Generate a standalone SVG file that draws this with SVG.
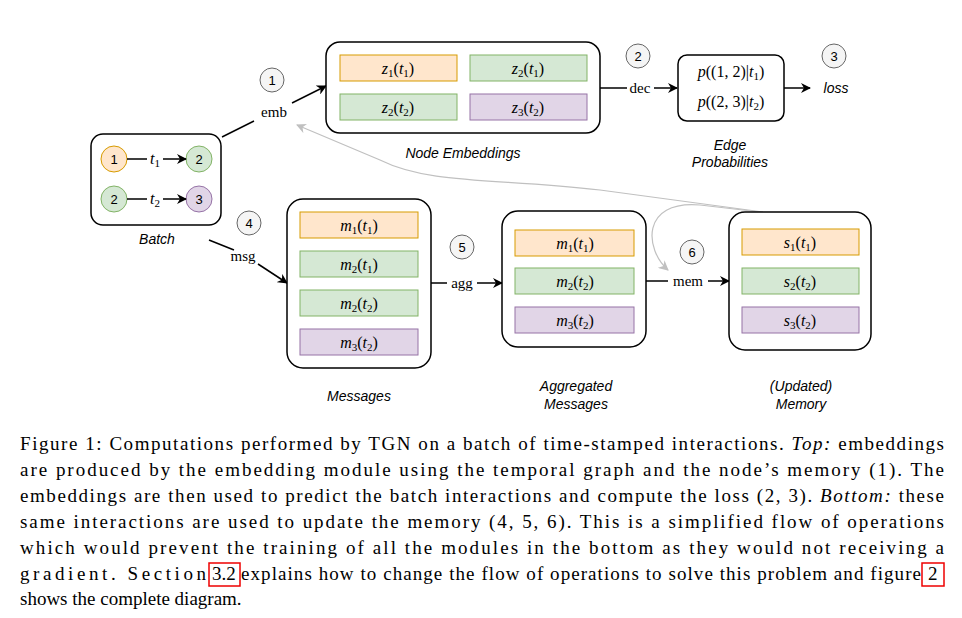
<svg xmlns="http://www.w3.org/2000/svg" width="962" height="618" viewBox="0 0 962 618">
<style>
.box{fill:#fff;stroke:#000;stroke-width:1.5}
.o{fill:#ffe6cc;stroke:#d79b00}
.g{fill:#d5e8d4;stroke:#82b366}
.p{fill:#e1d5e7;stroke:#9673a6}
.m{font-family:"Liberation Serif",serif;font-size:16px;font-style:italic;text-anchor:middle}
.s{font-family:"Liberation Serif",serif;font-size:15px;text-anchor:middle}
.lbl{font-family:"Liberation Sans",sans-serif;font-size:14px;font-style:italic;text-anchor:middle}
.num{fill:#f5f5f5;stroke:#666}
.nt{font-family:"Liberation Sans",sans-serif;font-size:13px;text-anchor:middle}
.cap{font-family:"Liberation Serif",serif;font-size:19px}
.ln{stroke:#000;stroke-width:1.5;fill:none}
.rb{fill:none;stroke:#e00;stroke-width:1.5}
</style>
<defs>
<marker id="a" markerWidth="10" markerHeight="10" refX="9" refY="5" orient="auto" markerUnits="userSpaceOnUse"><path d="M0,0 L10,5 L0,10 L3,5z"/></marker>
<marker id="ag" markerWidth="10" markerHeight="10" refX="9" refY="5" orient="auto" markerUnits="userSpaceOnUse"><path d="M0,0 L10,5 L0,10 L3,5z" fill="#c0c0c0"/></marker>
</defs>
<g id="connectors">
<path class="ln" d="M222,137 L254,121"/><path class="ln" d="M292,103 L326,86" marker-end="url(#a)"/>
<text class="s" x="274" y="117">emb</text>
<path class="ln" d="M600,88 L627,88"/><path class="ln" d="M654,88 L677,88" marker-end="url(#a)"/>
<text class="s" x="640" y="93">dec</text>
<path class="ln" d="M784,88 L810,88" marker-end="url(#a)"/>
<path class="ln" d="M209,240 L234,250"/><path class="ln" d="M258,264 L287,283" marker-end="url(#a)"/>
<text class="s" x="243" y="261">msg</text>
<path class="ln" d="M431,283 L447,283"/><path class="ln" d="M477,283 L502,283" marker-end="url(#a)"/>
<text class="s" x="462" y="288">agg</text>
<path class="ln" d="M646,281 L668,281"/><path class="ln" d="M708,281 L729,281" marker-end="url(#a)"/>
<text class="s" x="688" y="286">mem</text>
<path d="M763,212 L600,190 C500,178 430,185 380,160 L297,125" fill="none" stroke="#c0c0c0" stroke-width="1.2" marker-end="url(#ag)"/>
<path d="M760,212 L700,205 C640,200 645,250 668,270" fill="none" stroke="#c0c0c0" stroke-width="1.2" marker-end="url(#ag)"/>
</g>
<g id="batch">
<rect class="box" x="91" y="134" width="130" height="91" rx="12"/>
<circle class="o" cx="114" cy="159" r="13"/><text class="nt" x="114" y="164">1</text>
<circle class="g" cx="199" cy="159" r="13"/><text class="nt" x="199" y="164">2</text>
<circle class="g" cx="114" cy="199" r="13"/><text class="nt" x="114" y="204">2</text>
<circle class="p" cx="199" cy="199" r="13"/><text class="nt" x="199" y="204">3</text>
<path class="ln" d="M127,159 L147,159 M163,159 L186,159" marker-end="url(#a)"/>
<path class="ln" d="M127,199 L147,199 M163,199 L186,199" marker-end="url(#a)"/>
<text class="m" x="155" y="164">t<tspan font-size="11" dy="3" font-style="normal">1</tspan></text>
<text class="m" x="155" y="204">t<tspan font-size="11" dy="3" font-style="normal">2</tspan></text>
<text class="lbl" x="157" y="244">Batch</text>
</g>
<g id="n1"><circle class="num" cx="272" cy="80" r="12"/><text class="nt" x="272" y="85">1</text></g>
<g id="n2"><circle class="num" cx="638" cy="56" r="12"/><text class="nt" x="638" y="61">2</text></g>
<g id="n3"><circle class="num" cx="834" cy="56" r="12"/><text class="nt" x="834" y="61">3</text></g>
<g id="n4"><circle class="num" cx="249" cy="223" r="12"/><text class="nt" x="249" y="228">4</text></g>
<g id="n5"><circle class="num" cx="462" cy="247" r="12"/><text class="nt" x="462" y="252">5</text></g>
<g id="n6"><circle class="num" cx="692" cy="252" r="12"/><text class="nt" x="692" y="257">6</text></g>
<g id="embeddings">
<rect class="box" x="326" y="42" width="274" height="91" rx="14"/>
<rect class="o" x="340" y="55" width="117" height="26"/><text class="m" x="398" y="74">z<tspan font-size="11" dy="3" font-style="normal">1</tspan><tspan dy="-3" font-style="normal">(</tspan>t<tspan font-size="11" dy="3" font-style="normal">1</tspan><tspan dy="-3" font-style="normal">)</tspan></text>
<rect class="g" x="470" y="55" width="117" height="26"/><text class="m" x="528" y="74">z<tspan font-size="11" dy="3" font-style="normal">2</tspan><tspan dy="-3" font-style="normal">(</tspan>t<tspan font-size="11" dy="3" font-style="normal">1</tspan><tspan dy="-3" font-style="normal">)</tspan></text>
<rect class="g" x="340" y="94" width="117" height="26"/><text class="m" x="398" y="113">z<tspan font-size="11" dy="3" font-style="normal">2</tspan><tspan dy="-3" font-style="normal">(</tspan>t<tspan font-size="11" dy="3" font-style="normal">2</tspan><tspan dy="-3" font-style="normal">)</tspan></text>
<rect class="p" x="470" y="94" width="117" height="26"/><text class="m" x="528" y="113">z<tspan font-size="11" dy="3" font-style="normal">3</tspan><tspan dy="-3" font-style="normal">(</tspan>t<tspan font-size="11" dy="3" font-style="normal">2</tspan><tspan dy="-3" font-style="normal">)</tspan></text>
<text class="lbl" x="463" y="158">Node Embeddings</text>
</g>
<g id="edgeprob">
<rect class="box" x="678" y="55" width="106" height="66" rx="9"/>
<text class="m" x="731" y="77">p<tspan font-style="normal">((1, 2)|</tspan>t<tspan font-size="11" dy="3" font-style="normal">1</tspan><tspan dy="-3" font-style="normal">)</tspan></text>
<text class="m" x="731" y="107">p<tspan font-style="normal">((2, 3)|</tspan>t<tspan font-size="11" dy="3" font-style="normal">2</tspan><tspan dy="-3" font-style="normal">)</tspan></text>
<text class="lbl" x="730" y="150">Edge</text><text class="lbl" x="730" y="167">Probabilities</text>
</g>
<text id="loss" class="lbl" x="836" y="93">loss</text>
<g id="messages">
<rect class="box" x="287" y="199" width="144" height="169" rx="16"/>
<rect class="o" x="300" y="212" width="118" height="26"/><text class="m" x="359" y="231">m<tspan font-size="11" dy="3" font-style="normal">1</tspan><tspan dy="-3" font-style="normal">(</tspan>t<tspan font-size="11" dy="3" font-style="normal">1</tspan><tspan dy="-3" font-style="normal">)</tspan></text>
<rect class="g" x="300" y="251" width="118" height="26"/><text class="m" x="359" y="270">m<tspan font-size="11" dy="3" font-style="normal">2</tspan><tspan dy="-3" font-style="normal">(</tspan>t<tspan font-size="11" dy="3" font-style="normal">1</tspan><tspan dy="-3" font-style="normal">)</tspan></text>
<rect class="g" x="300" y="290" width="118" height="26"/><text class="m" x="359" y="309">m<tspan font-size="11" dy="3" font-style="normal">2</tspan><tspan dy="-3" font-style="normal">(</tspan>t<tspan font-size="11" dy="3" font-style="normal">2</tspan><tspan dy="-3" font-style="normal">)</tspan></text>
<rect class="p" x="300" y="329" width="118" height="26"/><text class="m" x="359" y="348">m<tspan font-size="11" dy="3" font-style="normal">3</tspan><tspan dy="-3" font-style="normal">(</tspan>t<tspan font-size="11" dy="3" font-style="normal">2</tspan><tspan dy="-3" font-style="normal">)</tspan></text>
<text class="lbl" x="359" y="401">Messages</text>
</g>
<g id="aggregated">
<rect class="box" x="502" y="211" width="144" height="136" rx="16"/>
<rect class="o" x="515" y="230" width="119" height="26"/><text class="m" x="575" y="249">m<tspan font-size="11" dy="3" font-style="normal">1</tspan><tspan dy="-3" font-style="normal">(</tspan>t<tspan font-size="11" dy="3" font-style="normal">1</tspan><tspan dy="-3" font-style="normal">)</tspan></text>
<rect class="g" x="515" y="268" width="119" height="26"/><text class="m" x="575" y="287">m<tspan font-size="11" dy="3" font-style="normal">2</tspan><tspan dy="-3" font-style="normal">(</tspan>t<tspan font-size="11" dy="3" font-style="normal">2</tspan><tspan dy="-3" font-style="normal">)</tspan></text>
<rect class="p" x="515" y="307" width="119" height="26"/><text class="m" x="575" y="326">m<tspan font-size="11" dy="3" font-style="normal">3</tspan><tspan dy="-3" font-style="normal">(</tspan>t<tspan font-size="11" dy="3" font-style="normal">2</tspan><tspan dy="-3" font-style="normal">)</tspan></text>
<text class="lbl" x="576" y="391">Aggregated</text><text class="lbl" x="576" y="409">Messages</text>
</g>
<g id="memory">
<rect class="box" x="729" y="212" width="142" height="138" rx="16"/>
<rect class="o" x="742" y="229" width="117" height="26"/><text class="m" x="800" y="248">s<tspan font-size="11" dy="3" font-style="normal">1</tspan><tspan dy="-3" font-style="normal">(</tspan>t<tspan font-size="11" dy="3" font-style="normal">1</tspan><tspan dy="-3" font-style="normal">)</tspan></text>
<rect class="g" x="742" y="268" width="117" height="26"/><text class="m" x="800" y="287">s<tspan font-size="11" dy="3" font-style="normal">2</tspan><tspan dy="-3" font-style="normal">(</tspan>t<tspan font-size="11" dy="3" font-style="normal">2</tspan><tspan dy="-3" font-style="normal">)</tspan></text>
<rect class="p" x="742" y="307" width="117" height="26"/><text class="m" x="800" y="326">s<tspan font-size="11" dy="3" font-style="normal">3</tspan><tspan dy="-3" font-style="normal">(</tspan>t<tspan font-size="11" dy="3" font-style="normal">2</tspan><tspan dy="-3" font-style="normal">)</tspan></text>
<text class="lbl" x="801" y="391">(Updated)</text><text class="lbl" x="801" y="409">Memory</text>
</g>
<g id="caption" class="cap">
<text x="20" y="450" textLength="924" lengthAdjust="spacing">Figure 1: Computations performed by TGN on a batch of time-stamped interactions. <tspan font-style="italic">Top:</tspan> embeddings</text>
<text x="20" y="476" textLength="924" lengthAdjust="spacing">are produced by the embedding module using the temporal graph and the node’s memory (1). The</text>
<text x="20" y="502" textLength="924" lengthAdjust="spacing">embeddings are then used to predict the batch interactions and compute the loss (2, 3). <tspan font-style="italic">Bottom:</tspan> these</text>
<text x="20" y="528" textLength="924" lengthAdjust="spacing">same interactions are used to update the memory (4, 5, 6). This is a simplified flow of operations</text>
<text x="20" y="554" textLength="924" lengthAdjust="spacing">which would prevent the training of all the modules in the bottom as they would not receiving a</text>
<text x="20" y="580" textLength="186" lengthAdjust="spacing">gradient. Section</text>
<text x="212" y="580">3.2</text>
<text x="241" y="580" textLength="680" lengthAdjust="spacing">explains how to change the flow of operations to solve this problem and figure</text>
<text x="928" y="580">2</text>
<text x="20" y="605">shows the complete diagram.</text>
<rect class="rb" x="209" y="563" width="31" height="23"/>
<rect class="rb" x="922" y="563" width="22" height="23"/>
</g>
</svg>
